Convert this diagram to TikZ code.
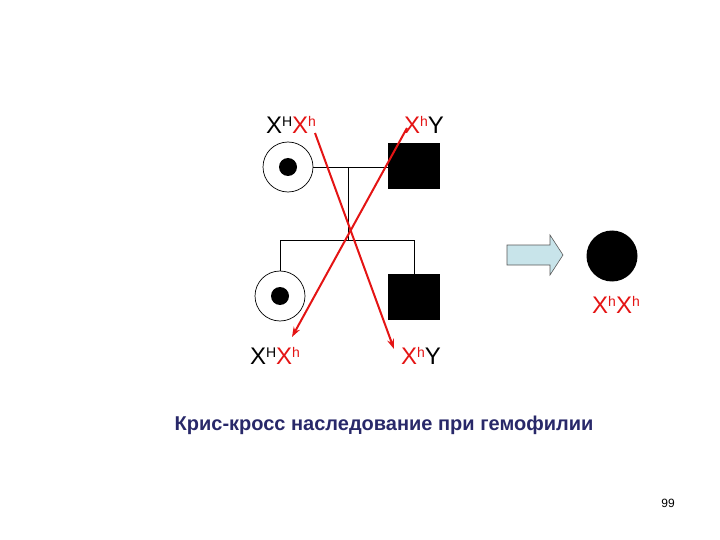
\documentclass[tikz,border=0pt]{standalone}
\usepackage{fontspec}
\setmainfont{Liberation Sans}
\usetikzlibrary{arrows.meta}
\definecolor{gred}{RGB}{228,20,20}
\definecolor{capnavy}{RGB}{40,40,105}
\definecolor{arrowfill}{RGB}{200,228,234}
\newcommand\gs[1]{\raisebox{7pt}{\fontsize{14}{14}\selectfont #1}}
\begin{document}
\begin{tikzpicture}[x=1pt,y=-1pt,
  female/.style={circle, draw, line width=0.7pt, minimum size=50pt, inner sep=0pt},
  dotn/.style={circle, fill=black, minimum size=18pt, inner sep=0pt},
  male/.style={rectangle, fill=black, minimum width=52pt, minimum height=46pt, inner sep=0pt},
  affected/.style={circle, fill=black, minimum size=51pt, inner sep=0pt},
  geno/.style={font=\fontsize{24}{28}\selectfont, inner sep=0pt},
  pline/.style={line width=0.7pt},
  cross/.style={gred, line width=2pt, -{Stealth[length=10pt,width=7pt]}}]
\useasboundingbox (0,0) rectangle (720,540);
% parents
\node[female] (m) at (288,167) {};
\node[dotn] (md) at (m.center) {};
\node[male] (f) at (414,166) {};
% children
\node[female] (d) at (280,296) {};
\node[dotn] (dd) at (d.center) {};
\node[male] (s) at (414,297) {};
% pedigree lines
\coordinate (mid) at (348,167);
\coordinate (sib) at (348,240);
\draw[pline] (m.east) -- (m.east -| f.west);
\draw[pline] (mid) -- (sib);
\draw[pline] (d.north |- sib) -- (s.north |- sib);
\draw[pline] (d.north |- sib) -- (d.north);
\draw[pline] (s.north |- sib) -- (s.north);
% genotype labels
\node[geno] (g1) at (291,125) {X\gs{H}\textcolor{gred}{X\gs{h}}};
\node[geno] (g2) at (424,125) {\textcolor{gred}{X\gs{h}}Y};
\node[geno] (g3) at (275,356) {X\gs{H}\textcolor{gred}{X\gs{h}}};
\node[geno] (g4) at (421,356) {\textcolor{gred}{X\gs{h}}Y};
\node[geno, text=gred] (g5) at (616,305) {X\gs{h}X\gs{h}};
% crossing arrows
\coordinate (c1s) at (315,133);
\coordinate (c1e) at (394,349);
\coordinate (c2s) at (407,128);
\coordinate (c2e) at (292,337);
\draw[cross] (c1s) -- (c1e);
\draw[cross] (c2s) -- (c2e);
% block arrow
\draw[draw=gray!70!black, line width=0.6pt, fill=arrowfill]
  (507,245) -- (550,245) -- (550,235) -- (563,255) -- (550,275) -- (550,265) -- (507,265) -- cycle;
% affected daughter
\node[affected] (a) at (612,256) {};
% caption
\node[font=\bfseries\fontsize{20}{24}\selectfont, text=capnavy, inner sep=0pt] (cap) at (384,425) {Крис-кросс наследование при гемофилии};
\node[font=\fontsize{12}{14}\selectfont, inner sep=0pt] (pn) at (668,503) {99};
\end{tikzpicture}
\end{document}
